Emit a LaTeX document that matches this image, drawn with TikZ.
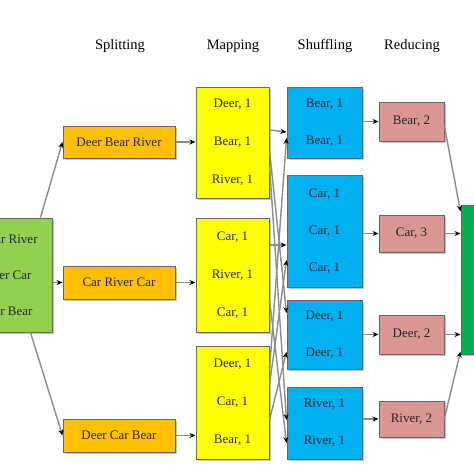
\documentclass[tikz,border=0pt]{standalone}
\usepackage{fontspec}
\setmainfont{Liberation Serif}
\usepackage{tikz}
\usetikzlibrary{arrows.meta,shadows}
\definecolor{inputgreen}{RGB}{146,208,80}
\definecolor{splitorange}{RGB}{255,192,0}
\definecolor{mapyellow}{RGB}{255,255,0}
\definecolor{shuffleblue}{RGB}{0,176,240}
\definecolor{reducepink}{RGB}{217,150,148}
\definecolor{outputgreen}{RGB}{0,176,80}

\begin{document}
\begin{tikzpicture}[x=1pt, y=-1pt, >={Stealth[black,length=6pt,width=5pt]},
	box/.style={draw=black!60, line width=1pt, align=center, inner sep=0pt, text=black!85,
		drop shadow={shadow xshift=1.8pt, shadow yshift=-1.8pt, fill=black!45},
		font=\fontsize{13}{37}\selectfont},
	head/.style={font=\fontsize{14.5}{16}\selectfont},
	link/.style={gray!90, line width=1.4pt, ->}]
	\useasboundingbox (0,0) rectangle (474,474);
	\clip (0,0) rectangle (474,474);

	\node[head] (hsplit) at (120,46) {Splitting};
	\node[head] (hmap) at (233,46) {Mapping};
	\node[head] (hshuf) at (325,46) {Shuffling};
	\node[head] (hred) at (412,46) {Reducing};

	\node[box, fill=inputgreen, minimum width=114pt, minimum height=114pt, font=\fontsize{13}{36}\selectfont] (in) at (-5,275) {Deer Bear River\\Car River Car\\Deer Car Bear};

	\node[box, fill=splitorange, minimum width=112pt, minimum height=32pt] (o1) at (119,142) {Deer Bear River};
	\node[box, fill=splitorange, minimum width=112pt, minimum height=33pt] (o2) at (119,282.5) {Car River Car};
	\node[box, fill=splitorange, minimum width=112pt, minimum height=33pt] (o3) at (119,435.5) {Deer Car Bear};

	\node[box, fill=mapyellow, minimum width=73pt, minimum height=111pt, font=\fontsize{13}{38}\selectfont] (m1) at (232.5,142.5) {Deer, 1\\Bear, 1\\River, 1};
	\node[box, fill=mapyellow, minimum width=73pt, minimum height=114pt, font=\fontsize{13}{38}\selectfont] (m2) at (232.5,275) {Car, 1\\River, 1\\Car, 1};
	\node[box, fill=mapyellow, minimum width=73pt, minimum height=113pt, font=\fontsize{13}{38}\selectfont] (m3) at (232.5,402.5) {Deer, 1\\Car, 1\\Bear, 1};

	\node[box, fill=shuffleblue, minimum width=75pt, minimum height=71pt] (s1) at (324.5,122.5) {Bear, 1\\Bear, 1};
	\node[box, fill=shuffleblue, minimum width=75pt, minimum height=112pt] (s2) at (324.5,231) {Car, 1\\Car, 1\\Car, 1};
	\node[box, fill=shuffleblue, minimum width=75pt, minimum height=69pt] (s3) at (324.5,334.5) {Deer, 1\\Deer, 1};
	\node[box, fill=shuffleblue, minimum width=75pt, minimum height=72pt] (s4) at (324.5,423) {River, 1\\River, 1};

	\node[box, fill=reducepink, minimum width=65pt, minimum height=39pt] (r1) at (411.5,121.5) {Bear, 2};
	\node[box, fill=reducepink, minimum width=65pt, minimum height=37pt] (r2) at (411.5,233.5) {Car, 3};
	\node[box, fill=reducepink, minimum width=65pt, minimum height=39pt] (r3) at (411.5,334.5) {Deer, 2};
	\node[box, fill=reducepink, minimum width=65pt, minimum height=36pt] (r4) at (411.5,419) {River, 2};

	\node[box, fill=outputgreen, minimum width=58pt, minimum height=149pt] (out) at (490,279.5) {};

	\draw[link] ([xshift=-12pt]in.north east) -- (o1.west);
	\draw[link] (in.east |- o2) -- (o2.west);
	\draw[link] ([xshift=-22pt]in.south east) -- (o3.west);

	\draw[link] (o1.east) -- (o1.east -| m1.west);
	\draw[link] (o2.east) -- (o2.east -| m2.west);
	\draw[link] (o3.east) -- (o3.east -| m3.west);

	\draw[link] ([yshift=12.5pt]m1.east) -- ([yshift=-9.5pt]s1.west);
	\draw[link] ([yshift=-7.5pt]m1.east) -- ([yshift=21.5pt]s3.west);
	\draw[link] ([yshift=-22.5pt]m1.east) -- ([yshift=3pt]s4.west);
	\draw[link] ([yshift=30pt]m2.east) -- ([yshift=-14pt]s2.west);
	\draw[link] ([yshift=-25pt]m2.east) -- ([yshift=-20pt]s4.west);
	\draw[link] ([yshift=32.5pt]m3.east) -- ([yshift=-15.5pt]s1.west);
	\draw[link] ([yshift=17.5pt]m3.east) -- ([yshift=-29pt]s2.west);
	\draw[link] ([yshift=-17.5pt]m3.east) -- ([yshift=-17.5pt]s3.west);

	\draw[link] (s1.east |- r1) -- (r1.west);
	\draw[link] (s2.east |- r2) -- (r2.west);
	\draw[link] (s3.east |- r3) -- (r3.west);
	\draw[link] (s4.east |- r4) -- (r4.west);

	\draw[link] ([yshift=-5pt]r1.east) -- ([yshift=-7pt]out.north west);
	\draw[link] (r2.east) -- (r2.east -| out.west);
	\draw[link] (r3.east) -- (r3.east -| out.west);
	\draw[link] ([yshift=1pt]r4.east) -- ([yshift=3pt]out.south west);
\end{tikzpicture}
\end{document}
